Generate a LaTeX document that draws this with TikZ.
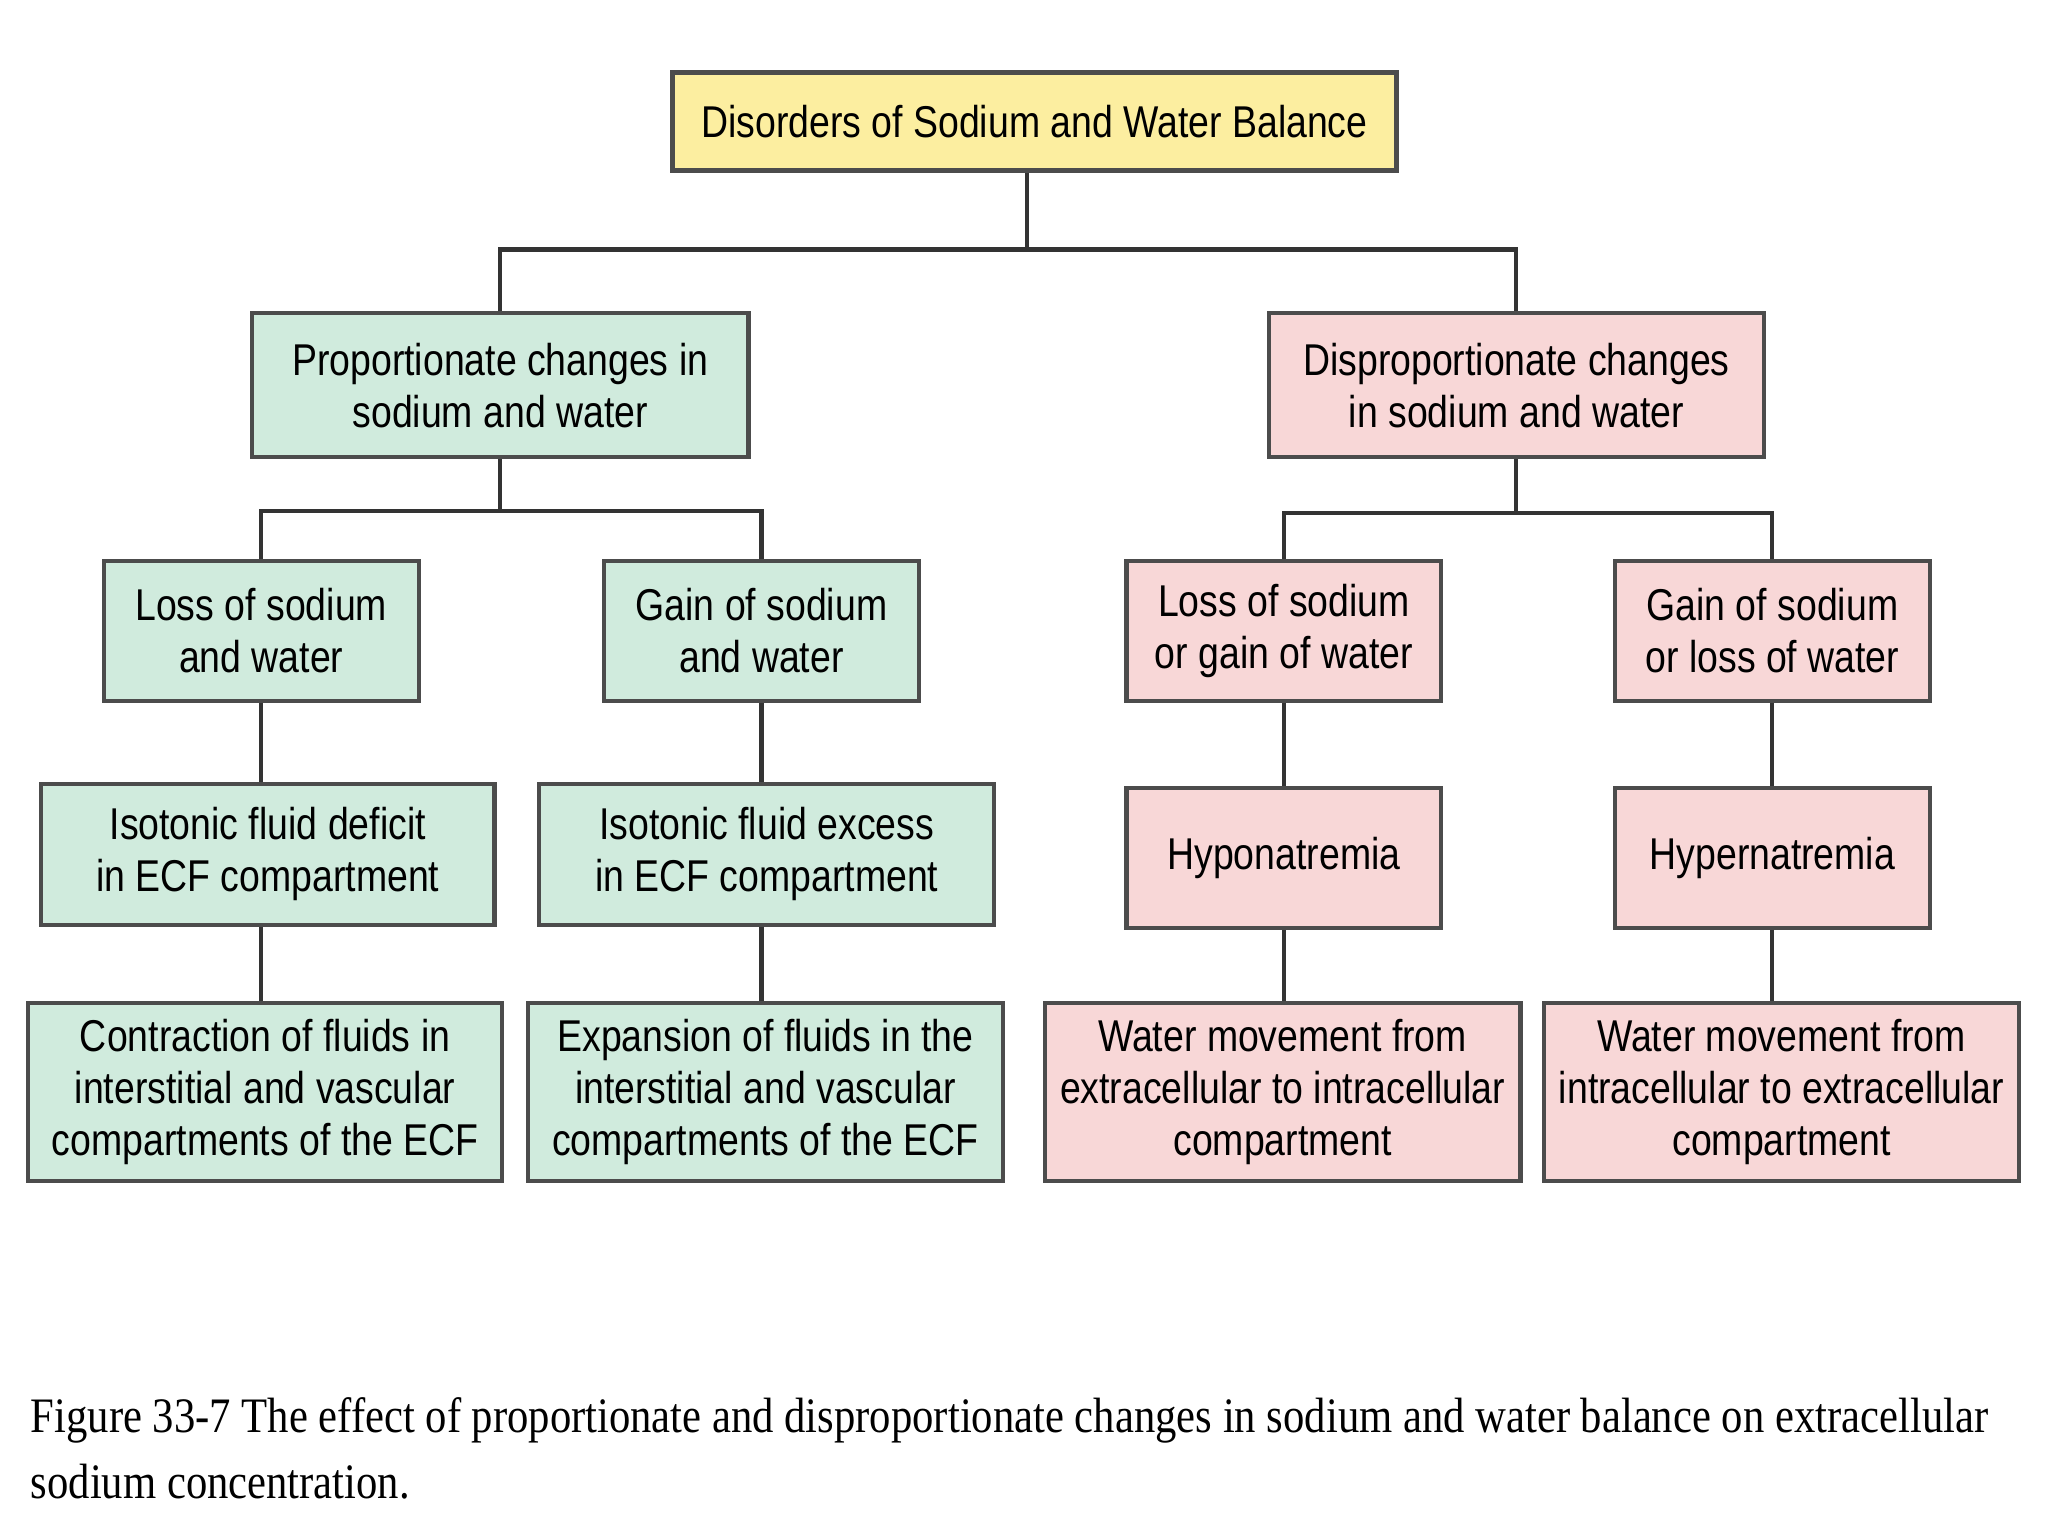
\documentclass[tikz,border=0pt]{standalone}
\usepackage{fontspec}
\setmainfont{Liberation Serif}
\newfontfamily\boxfont[FakeStretch=0.84]{Liberation Sans}
\newfontfamily\capfont[FakeStretch=0.86]{Liberation Serif}
\usetikzlibrary{positioning}
\definecolor{mint}{RGB}{208,235,221}
\definecolor{rose}{RGB}{248,215,215}
\definecolor{butter}{RGB}{252,238,160}

\begin{document}
\begin{tikzpicture}[
            x = 0.01cm, y = -0.01cm, % pixel grid of the reference
            line width = 0.9pt,
            box/.style = {
                draw = black!70,
                align = center,
                inner sep = 0pt,
                font = \boxfont\fontsize{9.7}{11.4}\selectfont
            },
            prop/.style = {box, fill = mint},
            disp/.style = {box, fill = rose},
            link/.style = {draw = black!80}
        ]
        \useasboundingbox[fill = white] (0,0) rectangle (1568,1176);

        \node[box, fill = butter, minimum width = 5.54cm, minimum height = 0.75cm] (top) at (792,93) {Disorders of Sodium and Water Balance};

        \node[prop, minimum width = 3.8cm, minimum height = 1.1cm] (pc) at (383,295) {Proportionate changes in\\sodium and water};
        \node[disp, minimum width = 3.79cm, minimum height = 1.1cm] (dc) at (1161,295) {Disproportionate changes\\in sodium and water};

        % third row
        \node[prop, minimum width = 2.41cm, minimum height = 1.07cm] (loss) at (200,483) {Loss of sodium\\and water};
        \node[prop, minimum width = 2.41cm, minimum height = 1.07cm] (gain) at (583,483) {Gain of sodium\\and water};
        \node[disp, minimum width = 2.41cm, minimum height = 1.07cm] (lossna) at (983,483) {Loss of sodium\\or gain of water};
        \node[disp, minimum width = 2.41cm, minimum height = 1.07cm] (gainna) at (1357,483) {Gain of sodium\\or loss of water};

        % fourth row
        \node[prop, minimum width = 3.47cm, minimum height = 1.08cm] (deficit) at (205,654) {Isotonic fluid deficit\\in ECF compartment};
        \node[prop, minimum width = 3.48cm, minimum height = 1.08cm] (excess) at (587,654) {Isotonic fluid excess\\in ECF compartment};
        \node[disp, minimum width = 2.41cm, minimum height = 1.07cm] (hypo) at (983,657) {Hyponatremia};
        \node[disp, minimum width = 2.41cm, minimum height = 1.07cm] (hyper) at (1357,657) {Hypernatremia};

        % bottom row
        \node[prop, minimum width = 3.63cm, minimum height = 1.36cm] (contr) at (203,836) {Contraction of fluids in\\interstitial and vascular\\compartments of the ECF};
        \node[prop, minimum width = 3.63cm, minimum height = 1.36cm] (expan) at (586,836) {Expansion of fluids in the\\interstitial and vascular\\compartments of the ECF};
        \node[disp, minimum width = 3.64cm, minimum height = 1.36cm] (ecic) at (982,836) {Water movement from\\extracellular to intracellular\\compartment};
        \node[disp, minimum width = 3.64cm, minimum height = 1.36cm] (icec) at (1364,836) {Water movement from\\intracellular to extracellular\\compartment};

        \coordinate (j1) at (786,191);
        \coordinate (j2) at (383,391);
        \coordinate (j3) at (1161,393);

        \draw[link] (top.south -| j1) -- (j1);
        \draw[link] (pc.north) |- (j1) -| (dc.north);
        \draw[link] (pc.south) -- (j2);
        \draw[link] (loss.north) |- (j2) -| (gain.north);
        \draw[link] (dc.south) -- (j3);
        \draw[link] (lossna.north) |- (j3) -| (gainna.north);

        \draw[link] (loss.south) -- (loss.south |- deficit.north);
        \draw[link] (gain.south) -- (gain.south |- excess.north);
        \draw[link] (lossna) -- (hypo);
        \draw[link] (gainna) -- (hyper);
        \draw[link] (loss.south |- deficit.south) -- (loss.south |- contr.north);
        \draw[link] (gain.south |- excess.south) -- (gain.south |- expan.north);
        \draw[link] (hypo.south) -- (hypo.south |- ecic.north);
        \draw[link] (hyper.south) -- (hyper.south |- icec.north);

        \node[anchor = base west, align = left, inner sep = 0pt,
              font = \capfont\fontsize{10.8}{14.2}\selectfont] (caption) at (22,1147)
            {Figure 33-7 The effect of proportionate and disproportionate changes in sodium and water balance on extracellular\\sodium concentration.};
    \end{tikzpicture}
\end{document}
